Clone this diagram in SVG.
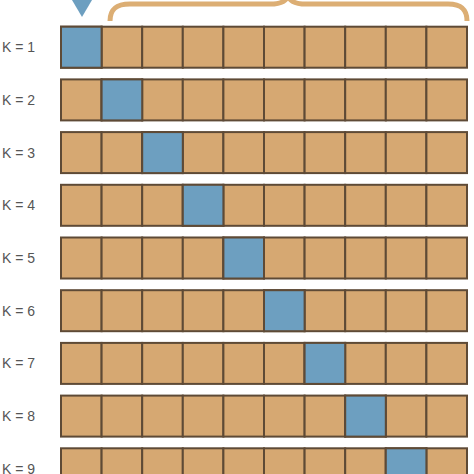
<svg xmlns="http://www.w3.org/2000/svg" xmlns:xlink="http://www.w3.org/1999/xlink" width="474" height="474" viewBox="0 0 474 474">
<style>
.c{fill:#d6a872;stroke:#5e4a36;stroke-width:2}
.b{fill:#6d9fc0;stroke:#5e4a36;stroke-width:2}
.lbl{font-family:"Liberation Sans",Arial,sans-serif;font-size:14px;fill:#555;text-anchor:end}
</style>
<defs>
<g id="row">
<rect class="c" x="61" y="0" width="40.6" height="41"/>
<rect class="c" x="101.6" y="0" width="40.6" height="41"/>
<rect class="c" x="142.2" y="0" width="40.6" height="41"/>
<rect class="c" x="182.8" y="0" width="40.6" height="41"/>
<rect class="c" x="223.4" y="0" width="40.6" height="41"/>
<rect class="c" x="264" y="0" width="40.6" height="41"/>
<rect class="c" x="304.6" y="0" width="40.6" height="41"/>
<rect class="c" x="345.2" y="0" width="40.6" height="41"/>
<rect class="c" x="385.8" y="0" width="40.6" height="41"/>
<rect class="c" x="426.4" y="0" width="40.6" height="41"/>
</g>
</defs>
<rect width="474" height="474" fill="#fff"/>
<g id="marker">
<polygon points="72,0 92,0 82,17" fill="#6d9fc0"/>
</g>
<g id="brace">
<path d="M110,21 C110,9 116,4 130,4 L270,4 C282,4 288,0 288,-6 C288,0 294,4 306,4 L448,4 C462,4 467,10 467,21" fill="none" stroke="#dcae74" stroke-width="5"/>
</g>
<g id="k1" transform="translate(0,26.7)"><use xlink:href="#row"/><rect class="b" x="61" y="0" width="40.6" height="41"/><text class="lbl" x="35" y="25.5">K = 1</text></g>
<g id="k2" transform="translate(0,79.4)"><use xlink:href="#row"/><rect class="b" x="101.6" y="0" width="40.6" height="41"/><text class="lbl" x="35" y="25.5">K = 2</text></g>
<g id="k3" transform="translate(0,132.1)"><use xlink:href="#row"/><rect class="b" x="142.2" y="0" width="40.6" height="41"/><text class="lbl" x="35" y="25.5">K = 3</text></g>
<g id="k4" transform="translate(0,184.8)"><use xlink:href="#row"/><rect class="b" x="182.8" y="0" width="40.6" height="41"/><text class="lbl" x="35" y="25.5">K = 4</text></g>
<g id="k5" transform="translate(0,237.5)"><use xlink:href="#row"/><rect class="b" x="223.4" y="0" width="40.6" height="41"/><text class="lbl" x="35" y="25.5">K = 5</text></g>
<g id="k6" transform="translate(0,290.2)"><use xlink:href="#row"/><rect class="b" x="264" y="0" width="40.6" height="41"/><text class="lbl" x="35" y="25.5">K = 6</text></g>
<g id="k7" transform="translate(0,342.9)"><use xlink:href="#row"/><rect class="b" x="304.6" y="0" width="40.6" height="41"/><text class="lbl" x="35" y="25.5">K = 7</text></g>
<g id="k8" transform="translate(0,395.6)"><use xlink:href="#row"/><rect class="b" x="345.2" y="0" width="40.6" height="41"/><text class="lbl" x="35" y="25.5">K = 8</text></g>
<g id="k9" transform="translate(0,448.3)"><use xlink:href="#row"/><rect class="b" x="385.8" y="0" width="40.6" height="41"/><text class="lbl" x="35" y="25.5">K = 9</text></g>
</svg>
